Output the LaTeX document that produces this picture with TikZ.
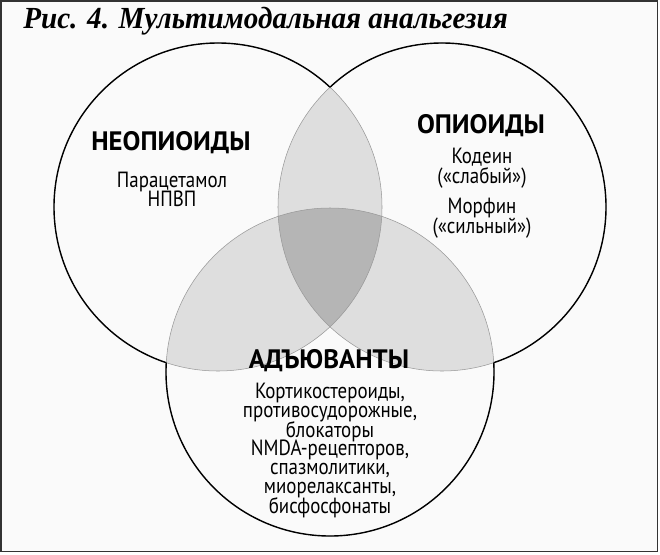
\documentclass[tikz,border=0pt]{standalone}
\usepackage{fontspec}
\newfontfamily\titlefont{Liberation Serif}[FakeStretch=0.95]
\newfontfamily\labfont{PT Sans}[FakeStretch=0.86]
\newfontfamily\headfont{PT Sans}
\definecolor{bgc}{HTML}{FAFAFA}
\definecolor{lightg}{HTML}{DEDEDE}
\definecolor{darkg}{HTML}{B5B5B5}
\definecolor{framec}{HTML}{333333}
\newcommand{\clipoutside}[1]{\clip (680,-20) -- (680,580) -- (-20,580) -- (-20,-20) -- cycle #1 circle[radius=123pt];}
\begin{document}
\begin{tikzpicture}[x=0.75pt,y=-0.75pt,
  head/.style={font=\headfont\bfseries\fontsize{20}{20}\selectfont, anchor=base, inner sep=0pt},
  body/.style={font=\labfont\fontsize{16.5}{16.5}\selectfont, anchor=base, inner sep=0pt, text height=11pt, text depth=2pt},
  innerline/.style={draw=black!40, line width=0.4pt},
  outerline/.style={draw=black, line width=1.05pt}]
\useasboundingbox (0,0) rectangle (660,554);
\fill[white] (0,0) rectangle (660,554);
\fill[bgc] (1,1) rectangle (657.5,551.5);
% fills
\begin{scope}
  \clip (218,207) circle[radius=123pt];
  \fill[lightg] (442,207) circle[radius=123pt];
  \fill[lightg] (330,372) circle[radius=123pt];
\end{scope}
\begin{scope}
  \clip (442,207) circle[radius=123pt];
  \fill[lightg] (330,372) circle[radius=123pt];
\end{scope}
\begin{scope}
  \clip (218,207) circle[radius=123pt];
  \clip (442,207) circle[radius=123pt];
  \fill[darkg] (330,372) circle[radius=123pt];
\end{scope}
% thin inner arcs
\path[innerline] (218,207) circle[radius=123pt];
\path[innerline] (442,207) circle[radius=123pt];
\path[innerline] (330,372) circle[radius=123pt];
% black outer boundary
\begin{scope}
  \clipoutside{(442,207)}
  \clipoutside{(330,372)}
  \path[outerline] (218,207) circle[radius=123pt];
\end{scope}
\begin{scope}
  \clipoutside{(218,207)}
  \clipoutside{(330,372)}
  \path[outerline] (442,207) circle[radius=123pt];
\end{scope}
\begin{scope}
  \clipoutside{(218,207)}
  \clipoutside{(442,207)}
  \path[outerline] (330,372) circle[radius=123pt];
\end{scope}
% frame
\draw[framec, line width=1.2pt] (1,1) rectangle (657.5,551.5);
% title
\node[anchor=base west, inner sep=0pt, font=\titlefont\bfseries\itshape\fontsize{23}{23}\selectfont] (title) at (23,28) {Рис. 4. Мультимодальная анальгезия};
% left
\node[head] (neo) at (171,150) {НЕОПИОИДЫ};
\node[body] (par) at (172,187) {Парацетамол};
\node[body] (npvp) at (172,206) {НПВП};
% right
\node[head] (op) at (481,133) {ОПИОИДЫ};
\node[body] (kod) at (482,163) {Кодеин};
\node[body] (sl) at (482,183) {(«слабый»)};
\node[body] (mor) at (482,213) {Морфин};
\node[body] (sil) at (482,233) {(«сильный»)};
% bottom
\node[head] (adj) at (329,368) {АДЪЮВАНТЫ};
\node[body] (b1) at (330,398) {Кортикостероиды,};
\node[body] (b2) at (330,417) {противосудорожные,};
\node[body] (b3) at (330,437) {блокаторы};
\node[body] (b4) at (330,455) {NMDA-рецепторов,};
\node[body] (b5) at (330,474) {спазмолитики,};
\node[body] (b6) at (330,493) {миорелаксанты,};
\node[body] (b7) at (330,513) {бисфосфонаты};
\end{tikzpicture}
\end{document}
